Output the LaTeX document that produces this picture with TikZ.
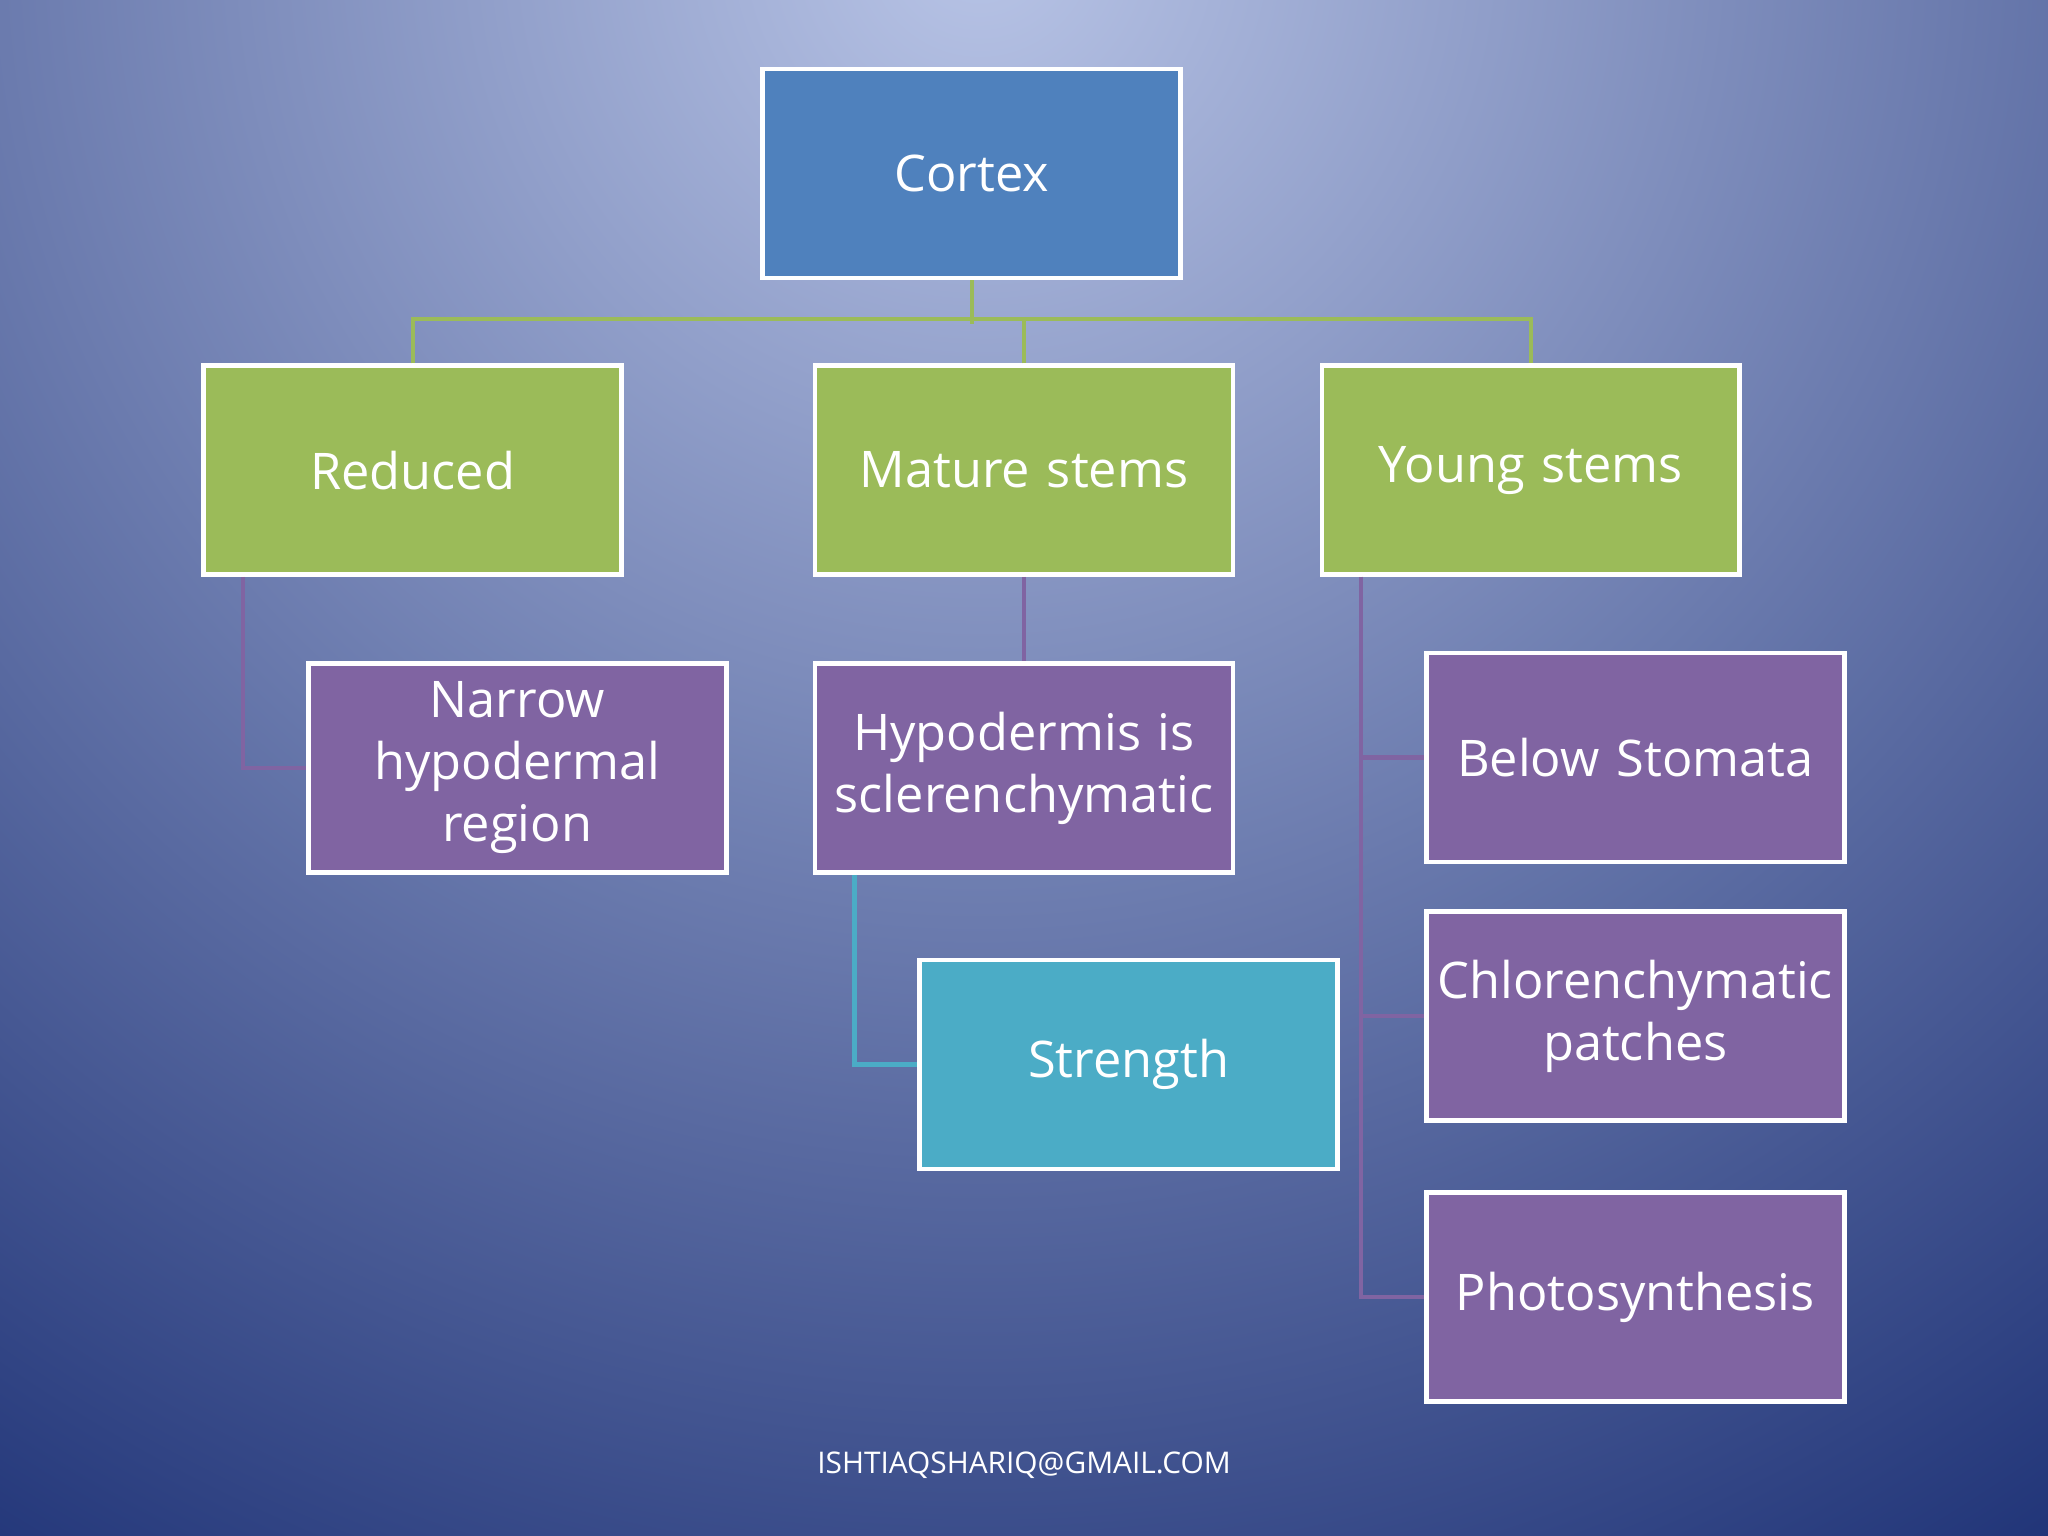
\documentclass[tikz,border=0pt]{standalone}
\usepackage{fontspec}
\setmainfont{Open Sans}
\begin{document}
\begin{tikzpicture}[
  box/.style={draw=white, line width=1pt, minimum width=3.2cm, minimum height=1.6cm, text width=3.2cm, inner sep=0pt, align=center, text=white, font=\fontsize{11}{13.5}\selectfont},
  conn/.style={line width=0.9pt}
]
\definecolor{cblue}{HTML}{4F81BD}
\definecolor{cgreen}{HTML}{9BBB59}
\definecolor{cpurple}{HTML}{8064A2}
\definecolor{ccyan}{HTML}{4BACC6}
\definecolor{bgin}{HTML}{B8C4E6}
\definecolor{bgout}{HTML}{1E3276}
\useasboundingbox (0,0) rectangle (15.68,11.76);
\begin{scope}
\clip (0,0) rectangle (15.68,11.76);
\shade[inner color=bgin, outer color=bgout] (7.5,12.2) circle (15cm);
\end{scope}
\node[box, fill=cblue] (cortex) at (7.44,10.43) {Cortex};
\node[box, fill=cgreen] (reduced) at (3.16,8.16) {Reduced};
\node[box, fill=cgreen] (mature) at (7.84,8.16) {Mature stems};
\node[box, fill=cgreen] (young) at (11.72,8.16) {Young stems};
\node[box, fill=cpurple] (narrow) at (3.96,5.88) {Narrow\\hypodermal\\region};
\node[box, fill=cpurple] (hypo) at (7.84,5.88) {Hypodermis is\\sclerenchymatic};
\node[box, fill=ccyan] (strength) at (8.64,3.61) {Strength};
\node[box, fill=cpurple] (below) at (12.52,5.96) {Below Stomata};
\node[box, fill=cpurple] (chlor) at (12.52,3.98) {Chlorenchymatic\\patches};
\node[box, fill=cpurple] (photo) at (12.52,1.83) {Photosynthesis};
\node[text=white, font=\fontsize{6.5}{8}\selectfont] (email) at (7.84,0.54) {ISHTIAQSHARIQ@GMAIL.COM};
\draw[conn, cgreen] (cortex.south) -- ++(0,-0.33);
\draw[conn, cgreen] (reduced.north) -- ++(0,0.34) -| (young.north);
\draw[conn, cgreen] (mature.north) -- ++(0,0.34);
\draw[conn, cpurple] ([xshift=0.32cm]reduced.south west) |- (narrow.west);
\draw[conn, cpurple] (mature.south) -- (hypo.north);
\draw[conn, ccyan] ([xshift=0.32cm]hypo.south west) |- (strength.west);
\draw[conn, cpurple] ([xshift=0.32cm]young.south west) |- (below.west);
\draw[conn, cpurple] ([xshift=0.32cm]young.south west) |- (chlor.west);
\draw[conn, cpurple] ([xshift=0.32cm]young.south west) |- (photo.west);
\end{tikzpicture}
\end{document}
